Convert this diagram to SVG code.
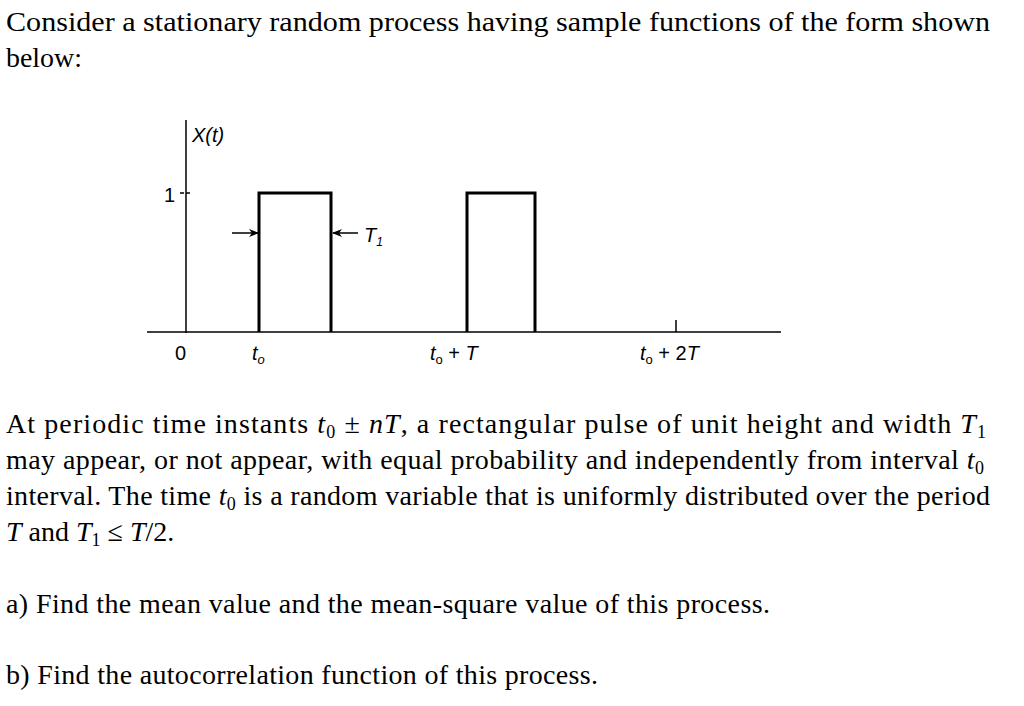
<svg xmlns="http://www.w3.org/2000/svg" width="1024" height="706" viewBox="0 0 1024 706">
<style>
.t{font-family:"Liberation Serif",serif;font-size:28px;fill:#000}
.s{font-family:"Liberation Sans",sans-serif;font-size:20px;fill:#000}
.p{fill:none;stroke:#000;stroke-width:3}
.a{stroke:#000;stroke-width:1.5}
</style>
<defs><marker id="ah" markerWidth="10" markerHeight="8" refX="9" refY="4" orient="auto" markerUnits="userSpaceOnUse"><path d="M0,0 L10,4 L0,8 L3,4 Z" fill="#000"/></marker></defs>
<rect width="1024" height="706" fill="#fff"/>
<text class="t" x="6" y="31" textLength="984" lengthAdjust="spacingAndGlyphs">Consider a stationary random process having sample functions of the form shown</text>
<text class="t" x="6" y="67" textLength="76" lengthAdjust="spacingAndGlyphs">below:</text>
<g id="axes">
<line class="a" x1="186" y1="120" x2="186" y2="333"/>
<line class="a" x1="147" y1="332" x2="781" y2="332"/>
<line class="a" x1="180" y1="193" x2="192" y2="193" stroke-dasharray="4,2"/>
<line class="a" x1="676" y1="320" x2="676" y2="332"/>
</g>
<g id="pulse1"><path class="p" d="M259,332 V193 H331 V332"/></g>
<g id="pulse2"><path class="p" d="M467,332 V193 H535 V332"/></g>
<g id="connectors">
<line class="a" x1="232" y1="233" x2="258" y2="233" marker-end="url(#ah)"/>
<line class="a" x1="358" y1="233" x2="333" y2="233" marker-end="url(#ah)"/>
</g>
<g id="labels">
<text class="s" x="192" y="142" font-style="italic">X(t)</text>
<text class="s" x="164" y="202">1</text>
<text class="s" x="364" y="242" font-style="italic">T<tspan font-size="12" dy="4">1</tspan></text>
<text class="s" x="175" y="360">0</text>
<text class="s" x="252" y="360" font-style="italic">t<tspan font-size="13" dy="4">o</tspan></text>
<text class="s" x="430" y="360"><tspan font-style="italic">t</tspan><tspan font-size="13" dy="4">o</tspan><tspan dy="-4"> + </tspan><tspan font-style="italic">T</tspan></text>
<text class="s" x="640" y="360"><tspan font-style="italic">t</tspan><tspan font-size="13" dy="4">o</tspan><tspan dy="-4"> + 2</tspan><tspan font-style="italic">T</tspan></text>
</g>
<text class="t" x="6" y="433" textLength="980" lengthAdjust="spacing">At periodic time instants <tspan font-style="italic">t</tspan><tspan font-size="18" dy="5">0</tspan><tspan dy="-5"> ± </tspan><tspan font-style="italic">nT</tspan>, a rectangular pulse of unit height and width <tspan font-style="italic">T</tspan><tspan font-size="18" dy="5">1</tspan></text>
<text class="t" x="6" y="469" textLength="978" lengthAdjust="spacing">may appear, or not appear, with equal probability and independently from interval <tspan font-style="italic">t</tspan><tspan font-size="18" dy="5">0</tspan></text>
<text class="t" x="6" y="505" textLength="984" lengthAdjust="spacing">interval. The time <tspan font-style="italic">t</tspan><tspan font-size="18" dy="5">0</tspan><tspan dy="-5"> is a random variable that is uniformly distributed over the period</tspan></text>
<text class="t" x="6" y="541"><tspan font-style="italic">T</tspan> and <tspan font-style="italic">T</tspan><tspan font-size="18" dy="5">1</tspan><tspan dy="-5"> ≤ </tspan><tspan font-style="italic">T</tspan>/2.</text>
<text class="t" x="6" y="613" textLength="764" lengthAdjust="spacing">a) Find the mean value and the mean-square value of this process.</text>
<text class="t" x="6" y="684" textLength="592" lengthAdjust="spacing">b) Find the autocorrelation function of this process.</text>
</svg>
